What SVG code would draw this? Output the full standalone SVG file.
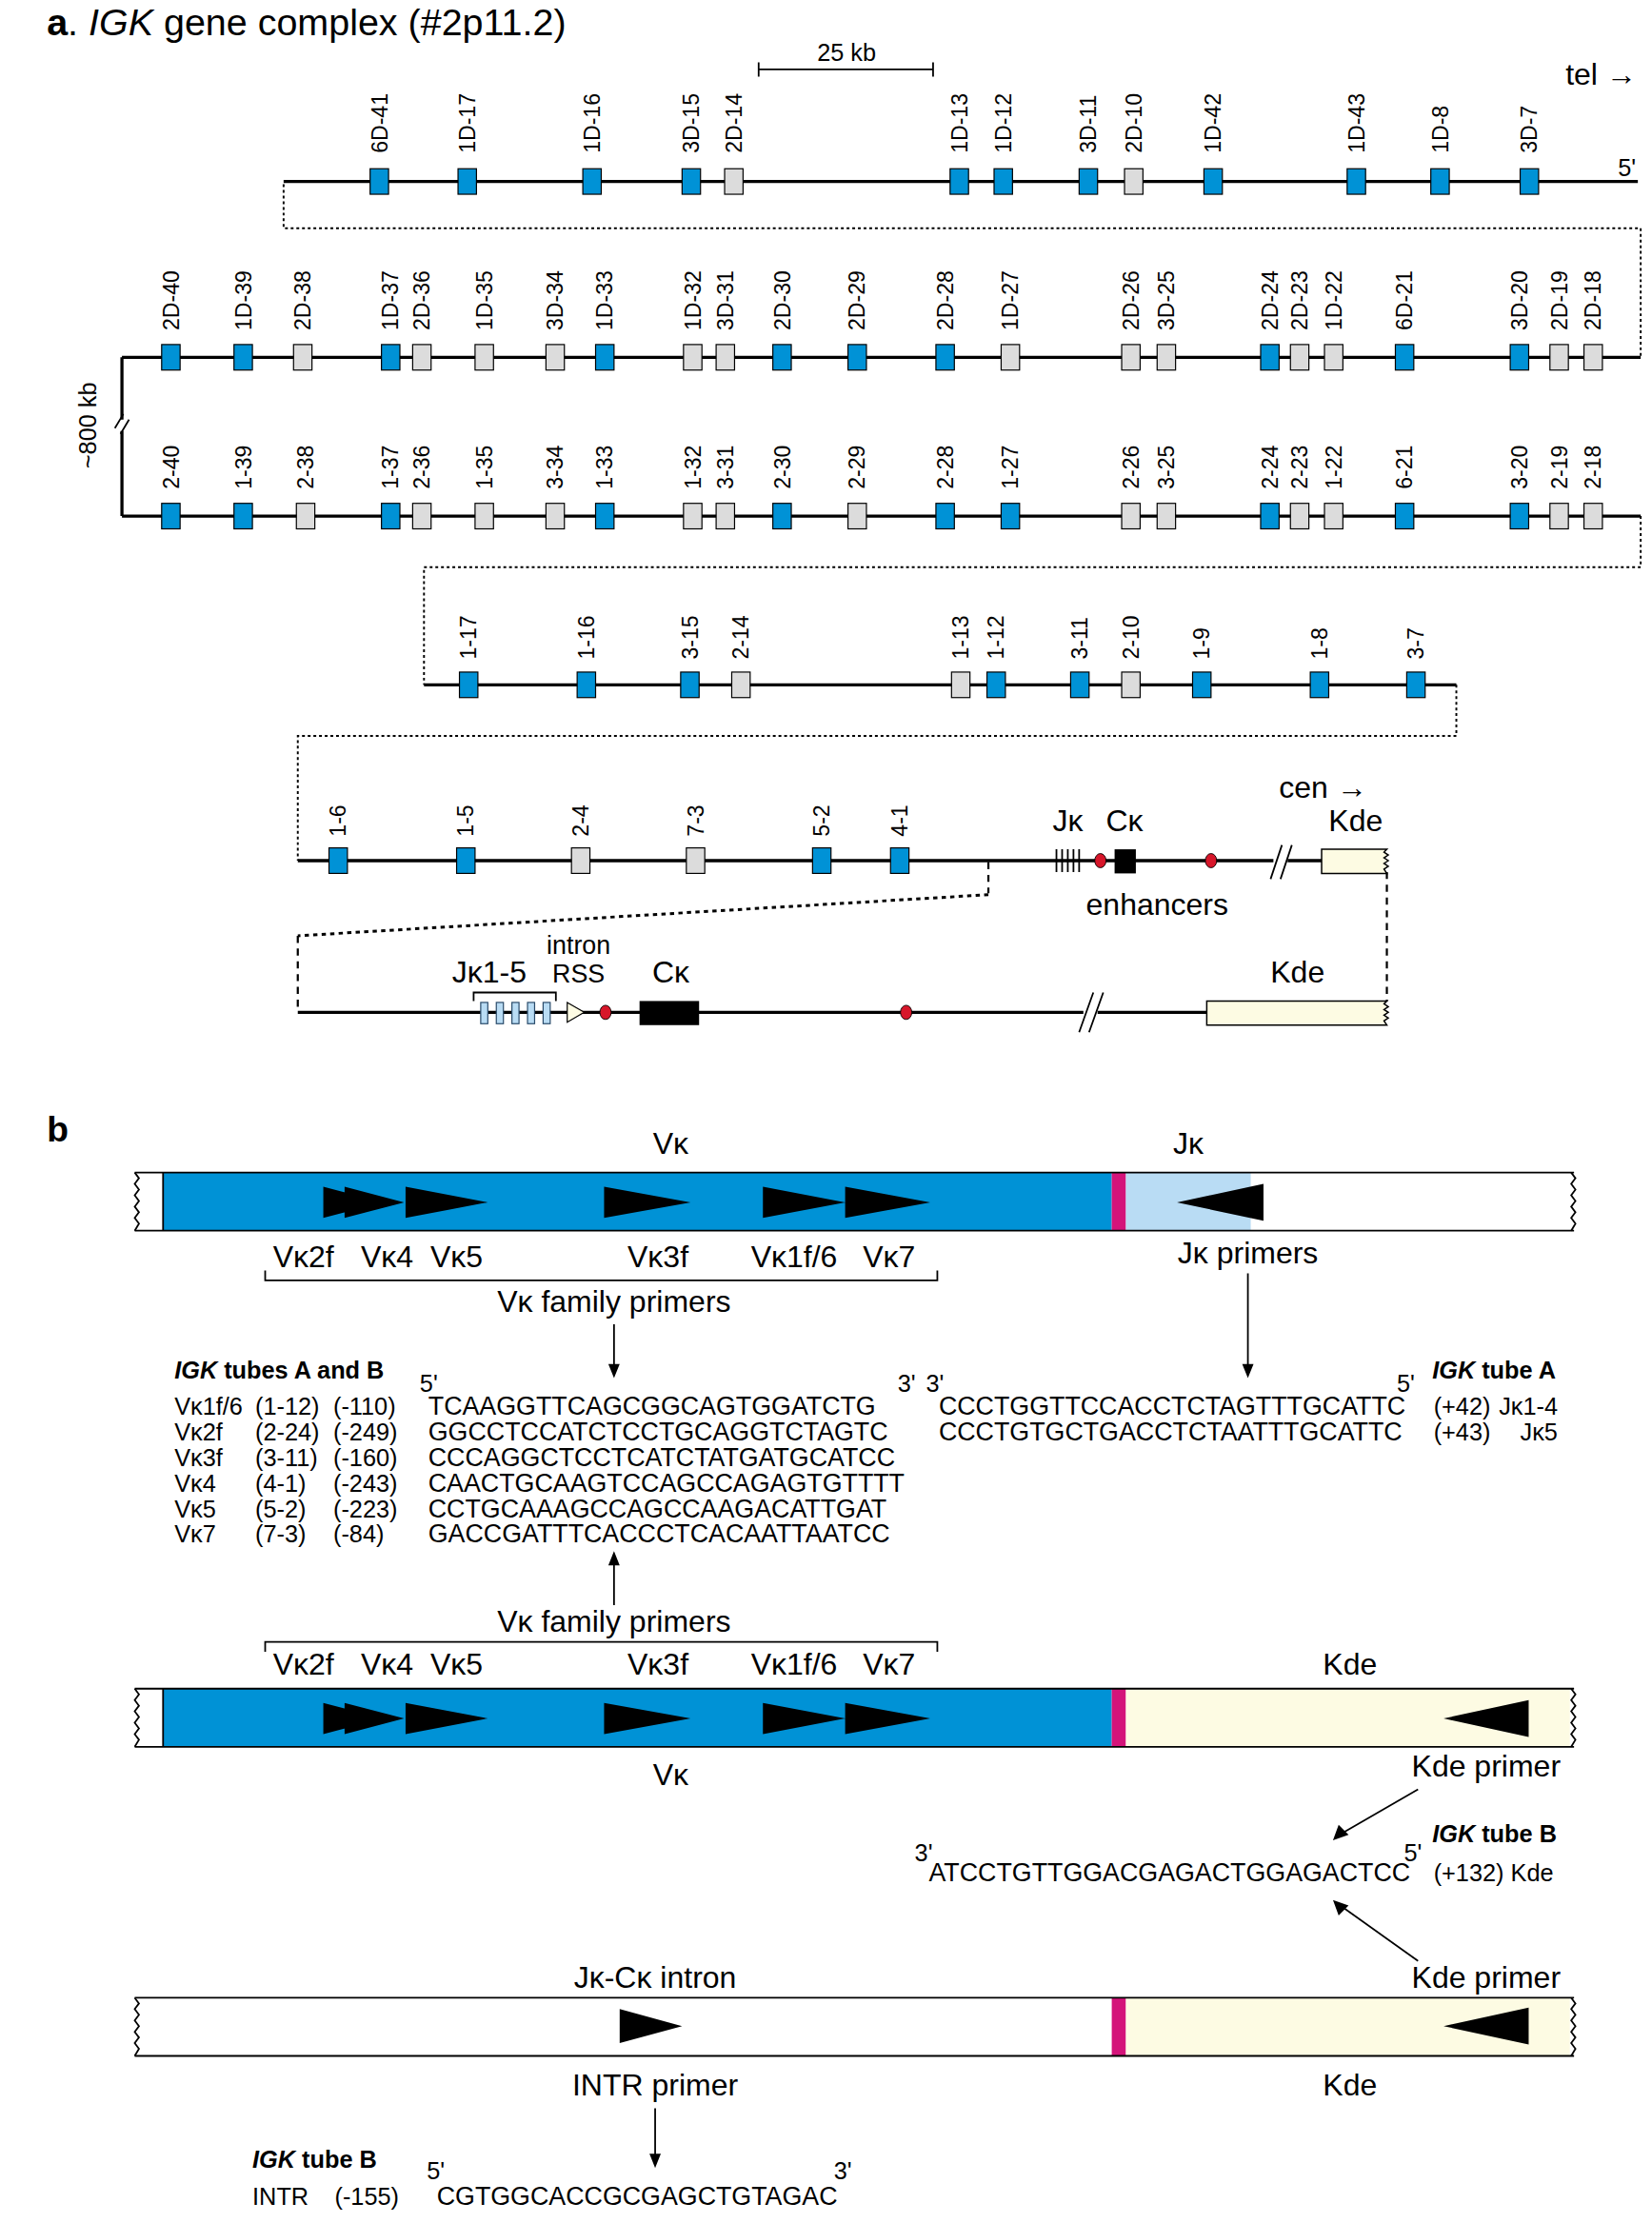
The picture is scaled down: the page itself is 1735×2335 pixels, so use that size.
<svg xmlns="http://www.w3.org/2000/svg" width="1735" height="2335" viewBox="0 0 1735 2335">
<style>
text{font-family:"Liberation Sans",Arial,sans-serif;fill:#000}
.g{font-size:15.5px}
.t{font-size:21.5px}
.s{font-size:18px}
.q{font-size:17px}
.m{text-anchor:middle}
.ln{stroke:#000;stroke-width:2.2;fill:none}
.th{stroke:#000;stroke-width:1.2;fill:none}
.dot{stroke:#000;stroke-width:1.3;fill:none;stroke-dasharray:2 2}
.dash{stroke:#000;stroke-width:1.5;fill:none;stroke-dasharray:5 4}
.b{fill:#0092d6;stroke:#000;stroke-width:0.8}
.y{fill:#dcdcdc;stroke:#000;stroke-width:0.8}
.tri{fill:#000}
.red{fill:#d7162a;stroke:#000;stroke-width:0.6}
</style>
<rect width="1735" height="2335" fill="#fff"/>
<g transform="scale(1.4893)">
<g id="titleA"><text x="33" y="25" style="font-size:26.5px"><tspan font-weight="bold">a</tspan>. <tspan font-style="italic">IGK</tspan> gene complex (#2p11.2)</text></g>
<g id="scalebar"><path class="th" d="M535 49H658M535 44V54M658 44V54"/><text x="597" y="43" class="q m">25 kb</text></g>
<g id="tel"><text x="1104" y="60" class="t">tel →</text></g>
<g id="connectors">
<path class="ln" d="M200 128H1155"/><text x="1141" y="124" class="q">5'</text>
<path class="dot" d="M200 130V161H1157V252"/>
<path class="ln" d="M86 252H1157M86 364H1157M86 252V296M86 304V364"/>
<path class="th" d="M81 302L87 292M85 306L91 296"/>
<path class="dot" d="M1157 364V400H299V483"/>
<path class="ln" d="M299 483H1027"/>
<path class="dot" d="M1027 483V519H210V607"/>
<path class="ln" d="M210 607H898M908 607H932"/>
<path class="th" d="M896 620L904 596M903 620L911 596"/>
<path class="dash" d="M697 608V630"/>
<path class="dot" d="M697 631L210 660" style="stroke-width:2;stroke-dasharray:3 3"/>
<path class="dash" d="M210 660V714M978 615V706"/>
<path class="ln" d="M210 714H764M774 714H851"/>
<path class="th" d="M761 728L771 700M768 728L778 700"/>
</g>
<text x="68" y="300" class="q m" transform="rotate(-90 68 300)">~800 kb</text>
<g id="row1">
<rect class="b" x="261" y="119" width="13" height="18"/><text class="g" transform="translate(273 108) rotate(-90)">6D-41</text>
<rect class="b" x="323" y="119" width="13" height="18"/><text class="g" transform="translate(335 108) rotate(-90)">1D-17</text>
<rect class="b" x="411" y="119" width="13" height="18"/><text class="g" transform="translate(423 108) rotate(-90)">1D-16</text>
<rect class="b" x="481" y="119" width="13" height="18"/><text class="g" transform="translate(493 108) rotate(-90)">3D-15</text>
<rect class="y" x="511" y="119" width="13" height="18"/><text class="g" transform="translate(523 108) rotate(-90)">2D-14</text>
<rect class="b" x="670" y="119" width="13" height="18"/><text class="g" transform="translate(682 108) rotate(-90)">1D-13</text>
<rect class="b" x="701" y="119" width="13" height="18"/><text class="g" transform="translate(713 108) rotate(-90)">1D-12</text>
<rect class="b" x="761" y="119" width="13" height="18"/><text class="g" transform="translate(773 108) rotate(-90)">3D-11</text>
<rect class="y" x="793" y="119" width="13" height="18"/><text class="g" transform="translate(805 108) rotate(-90)">2D-10</text>
<rect class="b" x="849" y="119" width="13" height="18"/><text class="g" transform="translate(861 108) rotate(-90)">1D-42</text>
<rect class="b" x="950" y="119" width="13" height="18"/><text class="g" transform="translate(962 108) rotate(-90)">1D-43</text>
<rect class="b" x="1009" y="119" width="13" height="18"/><text class="g" transform="translate(1021 108) rotate(-90)">1D-8</text>
<rect class="b" x="1072" y="119" width="13" height="18"/><text class="g" transform="translate(1084 108) rotate(-90)">3D-7</text>
</g>
<g id="row2">
<rect class="b" x="114" y="243" width="13" height="18"/><text class="g" transform="translate(126 233) rotate(-90)">2D-40</text>
<rect class="b" x="165" y="243" width="13" height="18"/><text class="g" transform="translate(177 233) rotate(-90)">1D-39</text>
<rect class="y" x="207" y="243" width="13" height="18"/><text class="g" transform="translate(219 233) rotate(-90)">2D-38</text>
<rect class="b" x="269" y="243" width="13" height="18"/><text class="g" transform="translate(281 233) rotate(-90)">1D-37</text>
<rect class="y" x="291" y="243" width="13" height="18"/><text class="g" transform="translate(303 233) rotate(-90)">2D-36</text>
<rect class="y" x="335" y="243" width="13" height="18"/><text class="g" transform="translate(347 233) rotate(-90)">1D-35</text>
<rect class="y" x="385" y="243" width="13" height="18"/><text class="g" transform="translate(397 233) rotate(-90)">3D-34</text>
<rect class="b" x="420" y="243" width="13" height="18"/><text class="g" transform="translate(432 233) rotate(-90)">1D-33</text>
<rect class="y" x="482" y="243" width="13" height="18"/><text class="g" transform="translate(494 233) rotate(-90)">1D-32</text>
<rect class="y" x="505" y="243" width="13" height="18"/><text class="g" transform="translate(517 233) rotate(-90)">3D-31</text>
<rect class="b" x="545" y="243" width="13" height="18"/><text class="g" transform="translate(557 233) rotate(-90)">2D-30</text>
<rect class="b" x="598" y="243" width="13" height="18"/><text class="g" transform="translate(610 233) rotate(-90)">2D-29</text>
<rect class="b" x="660" y="243" width="13" height="18"/><text class="g" transform="translate(672 233) rotate(-90)">2D-28</text>
<rect class="y" x="706" y="243" width="13" height="18"/><text class="g" transform="translate(718 233) rotate(-90)">1D-27</text>
<rect class="y" x="791" y="243" width="13" height="18"/><text class="g" transform="translate(803 233) rotate(-90)">2D-26</text>
<rect class="y" x="816" y="243" width="13" height="18"/><text class="g" transform="translate(828 233) rotate(-90)">3D-25</text>
<rect class="b" x="889" y="243" width="13" height="18"/><text class="g" transform="translate(901 233) rotate(-90)">2D-24</text>
<rect class="y" x="910" y="243" width="13" height="18"/><text class="g" transform="translate(922 233) rotate(-90)">2D-23</text>
<rect class="y" x="934" y="243" width="13" height="18"/><text class="g" transform="translate(946 233) rotate(-90)">1D-22</text>
<rect class="b" x="984" y="243" width="13" height="18"/><text class="g" transform="translate(996 233) rotate(-90)">6D-21</text>
<rect class="b" x="1065" y="243" width="13" height="18"/><text class="g" transform="translate(1077 233) rotate(-90)">3D-20</text>
<rect class="y" x="1093" y="243" width="13" height="18"/><text class="g" transform="translate(1105 233) rotate(-90)">2D-19</text>
<rect class="y" x="1117" y="243" width="13" height="18"/><text class="g" transform="translate(1129 233) rotate(-90)">2D-18</text>
</g>
<g id="row3">
<rect class="b" x="114" y="355" width="13" height="18"/><text class="g" transform="translate(126 345) rotate(-90)">2-40</text>
<rect class="b" x="165" y="355" width="13" height="18"/><text class="g" transform="translate(177 345) rotate(-90)">1-39</text>
<rect class="y" x="209" y="355" width="13" height="18"/><text class="g" transform="translate(221 345) rotate(-90)">2-38</text>
<rect class="b" x="269" y="355" width="13" height="18"/><text class="g" transform="translate(281 345) rotate(-90)">1-37</text>
<rect class="y" x="291" y="355" width="13" height="18"/><text class="g" transform="translate(303 345) rotate(-90)">2-36</text>
<rect class="y" x="335" y="355" width="13" height="18"/><text class="g" transform="translate(347 345) rotate(-90)">1-35</text>
<rect class="y" x="385" y="355" width="13" height="18"/><text class="g" transform="translate(397 345) rotate(-90)">3-34</text>
<rect class="b" x="420" y="355" width="13" height="18"/><text class="g" transform="translate(432 345) rotate(-90)">1-33</text>
<rect class="y" x="482" y="355" width="13" height="18"/><text class="g" transform="translate(494 345) rotate(-90)">1-32</text>
<rect class="y" x="505" y="355" width="13" height="18"/><text class="g" transform="translate(517 345) rotate(-90)">3-31</text>
<rect class="b" x="545" y="355" width="13" height="18"/><text class="g" transform="translate(557 345) rotate(-90)">2-30</text>
<rect class="y" x="598" y="355" width="13" height="18"/><text class="g" transform="translate(610 345) rotate(-90)">2-29</text>
<rect class="b" x="660" y="355" width="13" height="18"/><text class="g" transform="translate(672 345) rotate(-90)">2-28</text>
<rect class="b" x="706" y="355" width="13" height="18"/><text class="g" transform="translate(718 345) rotate(-90)">1-27</text>
<rect class="y" x="791" y="355" width="13" height="18"/><text class="g" transform="translate(803 345) rotate(-90)">2-26</text>
<rect class="y" x="816" y="355" width="13" height="18"/><text class="g" transform="translate(828 345) rotate(-90)">3-25</text>
<rect class="b" x="889" y="355" width="13" height="18"/><text class="g" transform="translate(901 345) rotate(-90)">2-24</text>
<rect class="y" x="910" y="355" width="13" height="18"/><text class="g" transform="translate(922 345) rotate(-90)">2-23</text>
<rect class="y" x="934" y="355" width="13" height="18"/><text class="g" transform="translate(946 345) rotate(-90)">1-22</text>
<rect class="b" x="984" y="355" width="13" height="18"/><text class="g" transform="translate(996 345) rotate(-90)">6-21</text>
<rect class="b" x="1065" y="355" width="13" height="18"/><text class="g" transform="translate(1077 345) rotate(-90)">3-20</text>
<rect class="y" x="1093" y="355" width="13" height="18"/><text class="g" transform="translate(1105 345) rotate(-90)">2-19</text>
<rect class="y" x="1117" y="355" width="13" height="18"/><text class="g" transform="translate(1129 345) rotate(-90)">2-18</text>
</g>
<g id="row4">
<rect class="b" x="324" y="474" width="13" height="18"/><text class="g" transform="translate(336 465) rotate(-90)">1-17</text>
<rect class="b" x="407" y="474" width="13" height="18"/><text class="g" transform="translate(419 465) rotate(-90)">1-16</text>
<rect class="b" x="480" y="474" width="13" height="18"/><text class="g" transform="translate(492 465) rotate(-90)">3-15</text>
<rect class="y" x="516" y="474" width="13" height="18"/><text class="g" transform="translate(528 465) rotate(-90)">2-14</text>
<rect class="y" x="671" y="474" width="13" height="18"/><text class="g" transform="translate(683 465) rotate(-90)">1-13</text>
<rect class="b" x="696" y="474" width="13" height="18"/><text class="g" transform="translate(708 465) rotate(-90)">1-12</text>
<rect class="b" x="755" y="474" width="13" height="18"/><text class="g" transform="translate(767 465) rotate(-90)">3-11</text>
<rect class="y" x="791" y="474" width="13" height="18"/><text class="g" transform="translate(803 465) rotate(-90)">2-10</text>
<rect class="b" x="841" y="474" width="13" height="18"/><text class="g" transform="translate(853 465) rotate(-90)">1-9</text>
<rect class="b" x="924" y="474" width="13" height="18"/><text class="g" transform="translate(936 465) rotate(-90)">1-8</text>
<rect class="b" x="992" y="474" width="13" height="18"/><text class="g" transform="translate(1004 465) rotate(-90)">3-7</text>
</g>
<g id="row5">
<rect class="b" x="232" y="598" width="13" height="18"/><text class="g" transform="translate(244 590) rotate(-90)">1-6</text>
<rect class="b" x="322" y="598" width="13" height="18"/><text class="g" transform="translate(334 590) rotate(-90)">1-5</text>
<rect class="y" x="403" y="598" width="13" height="18"/><text class="g" transform="translate(415 590) rotate(-90)">2-4</text>
<rect class="y" x="484" y="598" width="13" height="18"/><text class="g" transform="translate(496 590) rotate(-90)">7-3</text>
<rect class="b" x="573" y="598" width="13" height="18"/><text class="g" transform="translate(585 590) rotate(-90)">5-2</text>
<rect class="b" x="628" y="598" width="13" height="18"/><text class="g" transform="translate(640 590) rotate(-90)">4-1</text>
<path class="th" d="M745 599V615M749 599V615M753 599V615M757 599V615M761 599V615"/>
<ellipse class="red" cx="776" cy="607" rx="4" ry="5"/>
<rect x="786" y="599" width="15" height="17" fill="#000"/>
<ellipse class="red" cx="854" cy="607" rx="4" ry="5"/>
<path d="M932 599H978L976 601L979 603L976 605L979 607L976 609L979 611L976 613L978 616H932Z" fill="#fdfbe3" stroke="#000" stroke-width="1"/>
<text x="753" y="586" class="t m">Jκ</text><text x="793" y="586" class="t m">Cκ</text>
<text x="933" y="563" class="t m">cen →</text><text x="956" y="586" class="t m">Kde</text>
<text x="816" y="645" class="t m">enhancers</text>
</g>
<g id="row6">
<path class="th" d="M334 706V700H392V706"/>
<rect x="339" y="707" width="5" height="15" fill="#b9dcf4" stroke="#2a4b6a" stroke-width="0.8"/>
<rect x="350" y="707" width="5" height="15" fill="#b9dcf4" stroke="#2a4b6a" stroke-width="0.8"/>
<rect x="361" y="707" width="5" height="15" fill="#b9dcf4" stroke="#2a4b6a" stroke-width="0.8"/>
<rect x="372" y="707" width="5" height="15" fill="#b9dcf4" stroke="#2a4b6a" stroke-width="0.8"/>
<rect x="383" y="707" width="5" height="15" fill="#b9dcf4" stroke="#2a4b6a" stroke-width="0.8"/>
<path d="M400 707L412 714L400 721Z" fill="#fdfbe3" stroke="#000" stroke-width="0.8"/>
<ellipse class="red" cx="427" cy="714" rx="4" ry="5"/>
<rect x="451" y="706" width="42" height="17" fill="#000"/>
<ellipse class="red" cx="639" cy="714" rx="4" ry="5"/>
<path d="M851 706H978L976 708L979 710L976 712L979 714L976 716L979 718L976 720L978 723H851Z" fill="#fdfbe3" stroke="#000" stroke-width="1"/>
<text x="408" y="673" class="s m">intron</text>
<text x="345" y="693" class="t m">Jκ1-5</text><text x="408" y="693" class="s m">RSS</text>
<text x="473" y="693" class="t m">Cκ</text><text x="915" y="693" class="t m">Kde</text>
</g>
<g id="titleB"><text x="33" y="805" style="font-size:25px;font-weight:bold">b</text></g>
<g id="bar1">
<rect x="95" y="827" width="1015" height="41" fill="#fff"/>
<rect x="115" y="827" width="669" height="41" fill="#0092d6"/>
<rect x="784" y="827" width="10" height="41" fill="#d4147a"/>
<rect x="794" y="827" width="88" height="41" fill="#b9dcf4"/>
<path class="th" d="M95 827H1110M95 868H1110M115 827V868"/>
<path class="th" d="M95 827l3 4-3 4 3 4-3 4 3 4-3 4 3 4-3 4 3 4-3 5M1108 827l3 4-3 4 3 4-3 4 3 4-3 4 3 4-3 4 3 4-3 5"/>
<path class="tri" d="M228 837L270 848L228 859ZM243 837L285 848L243 859ZM286 837L344 848L286 859ZM426 837L487 848L426 859ZM538 837L596 848L538 859ZM596 837L656 848L596 859ZM891 835L830 848L891 861Z"/>
<text x="473" y="814" class="t m">Vκ</text><text x="838" y="814" class="t m">Jκ</text>
<text x="214" y="894" class="t m">Vκ2f</text><text x="273" y="894" class="t m">Vκ4</text><text x="322" y="894" class="t m">Vκ5</text>
<text x="464" y="894" class="t m">Vκ3f</text><text x="560" y="894" class="t m">Vκ1f/6</text><text x="627" y="894" class="t m">Vκ7</text>
<path class="th" d="M187 896V903H661V896"/>
<text x="433" y="925" class="t m">Vκ family primers</text>
<text x="880" y="891" class="t m">Jκ primers</text>
</g>
<g id="arrows" class="th">
<path d="M433 934V964M880 898V964M433 1132V1102M1000 1262L948 1292M1000 1383L948 1346M462 1487V1521"/>
<path class="tri" stroke="none" d="M429 962L433 972L437 962ZM876 962L880 972L884 962ZM429 1104L433 1094L437 1104ZM944 1287L940 1298L951 1294ZM944 1351L940 1340L951 1344ZM458 1519L462 1529L466 1519Z"/>
</g>
<g id="table1">
<text x="123" y="972" class="q" style="font-weight:bold"><tspan font-style="italic">IGK</tspan> tubes A and B</text>
<text x="296" y="982" class="q">5'</text><text x="633" y="982" class="q">3'</text><text x="653" y="982" class="q">3'</text><text x="985" y="982" class="q">5'</text>
<text x="1010" y="972" class="q" style="font-weight:bold"><tspan font-style="italic">IGK</tspan> tube A</text>
<text y="998" class="q"><tspan x="123">Vκ1f/6</tspan><tspan x="180">(1-12)</tspan><tspan x="235">(-110)</tspan></text>
<text y="1016" class="q"><tspan x="123">Vκ2f</tspan><tspan x="180">(2-24)</tspan><tspan x="235">(-249)</tspan></text>
<text y="1034" class="q"><tspan x="123">Vκ3f</tspan><tspan x="180">(3-11)</tspan><tspan x="235">(-160)</tspan></text>
<text y="1052" class="q"><tspan x="123">Vκ4</tspan><tspan x="180">(4-1)</tspan><tspan x="235">(-243)</tspan></text>
<text y="1070" class="q"><tspan x="123">Vκ5</tspan><tspan x="180">(5-2)</tspan><tspan x="235">(-223)</tspan></text>
<text y="1088" class="q"><tspan x="123">Vκ7</tspan><tspan x="180">(7-3)</tspan><tspan x="235">(-84)</tspan></text>
<text x="302" y="998" class="s">TCAAGGTTCAGCGGCAGTGGATCTG</text>
<text x="302" y="1016" class="s">GGCCTCCATCTCCTGCAGGTCTAGTC</text>
<text x="302" y="1034" class="s">CCCAGGCTCCTCATCTATGATGCATCC</text>
<text x="302" y="1052" class="s">CAACTGCAAGTCCAGCCAGAGTGTTTT</text>
<text x="302" y="1070" class="s">CCTGCAAAGCCAGCCAAGACATTGAT</text>
<text x="302" y="1088" class="s">GACCGATTTCACCCTCACAATTAATCC</text>
<text x="662" y="998" class="s">CCCTGGTTCCACCTCTAGTTTGCATTC</text>
<text x="662" y="1016" class="s">CCCTGTGCTGACCTCTAATTTGCATTC</text>
<text y="998" class="q"><tspan x="1011">(+42)</tspan><tspan x="1057">Jκ1-4</tspan></text>
<text y="1016" class="q"><tspan x="1011">(+43)</tspan><tspan x="1072">Jκ5</tspan></text>
</g>
<g id="bar2">
<text x="433" y="1151" class="t m">Vκ family primers</text>
<path class="th" d="M187 1165V1158H661V1165"/>
<text x="214" y="1181" class="t m">Vκ2f</text><text x="273" y="1181" class="t m">Vκ4</text><text x="322" y="1181" class="t m">Vκ5</text>
<text x="464" y="1181" class="t m">Vκ3f</text><text x="560" y="1181" class="t m">Vκ1f/6</text><text x="627" y="1181" class="t m">Vκ7</text>
<text x="952" y="1181" class="t m">Kde</text>
<rect x="95" y="1191" width="1015" height="41" fill="#fff"/>
<rect x="115" y="1191" width="669" height="41" fill="#0092d6"/>
<rect x="784" y="1191" width="10" height="41" fill="#d4147a"/>
<rect x="794" y="1191" width="313" height="41" fill="#fdfbe3"/>
<path class="th" d="M95 1191H1110M95 1232H1110M115 1191V1232"/>
<path class="th" d="M95 1191l3 4-3 4 3 4-3 4 3 4-3 4 3 4-3 4 3 4-3 5M1108 1191l3 4-3 4 3 4-3 4 3 4-3 4 3 4-3 4 3 4-3 5"/>
<path class="tri" d="M228 1201L270 1212L228 1223ZM243 1201L285 1212L243 1223ZM286 1201L344 1212L286 1223ZM426 1201L487 1212L426 1223ZM538 1201L596 1212L538 1223ZM596 1201L656 1212L596 1223ZM1078 1199L1018 1212L1078 1225Z"/>
<text x="473" y="1259" class="t m">Vκ</text>
<text x="1048" y="1253" class="t m">Kde primer</text>
</g>
<g id="tubeB1">
<text x="1010" y="1299" class="q" style="font-weight:bold"><tspan font-style="italic">IGK</tspan> tube B</text>
<text x="645" y="1313" class="q">3'</text><text x="990" y="1313" class="q">5'</text>
<text x="655" y="1327" class="s">ATCCTGTTGGACGAGACTGGAGACTCC</text>
<text x="1011" y="1327" class="q">(+132) Kde</text>
</g>
<g id="bar3">
<text x="1048" y="1402" class="t m">Kde primer</text>
<text x="462" y="1402" class="t m">Jκ-Cκ intron</text>
<rect x="95" y="1409" width="689" height="41" fill="#fff"/>
<rect x="784" y="1409" width="10" height="41" fill="#d4147a"/>
<rect x="794" y="1409" width="313" height="41" fill="#fdfbe3"/>
<path class="th" d="M95 1409H1110M95 1450H1110"/>
<path class="th" d="M95 1409l3 4-3 4 3 4-3 4 3 4-3 4 3 4-3 4 3 4-3 5M1108 1409l3 4-3 4 3 4-3 4 3 4-3 4 3 4-3 4 3 4-3 5"/>
<path class="tri" d="M437 1417L481 1429L437 1441ZM1078 1416L1018 1429L1078 1442Z"/>
<text x="462" y="1478" class="t m">INTR primer</text>
<text x="952" y="1478" class="t m">Kde</text>
</g>
<g id="tubeB2">
<text x="178" y="1529" class="q" style="font-weight:bold"><tspan font-style="italic">IGK</tspan> tube B</text>
<text x="301" y="1537" class="q">5'</text><text x="588" y="1537" class="q">3'</text>
<text y="1555" class="q"><tspan x="178">INTR</tspan><tspan x="236">(-155)</tspan></text>
<text x="308" y="1555" class="s">CGTGGCACCGCGAGCTGTAGAC</text>
</g>
</g>
</svg>
